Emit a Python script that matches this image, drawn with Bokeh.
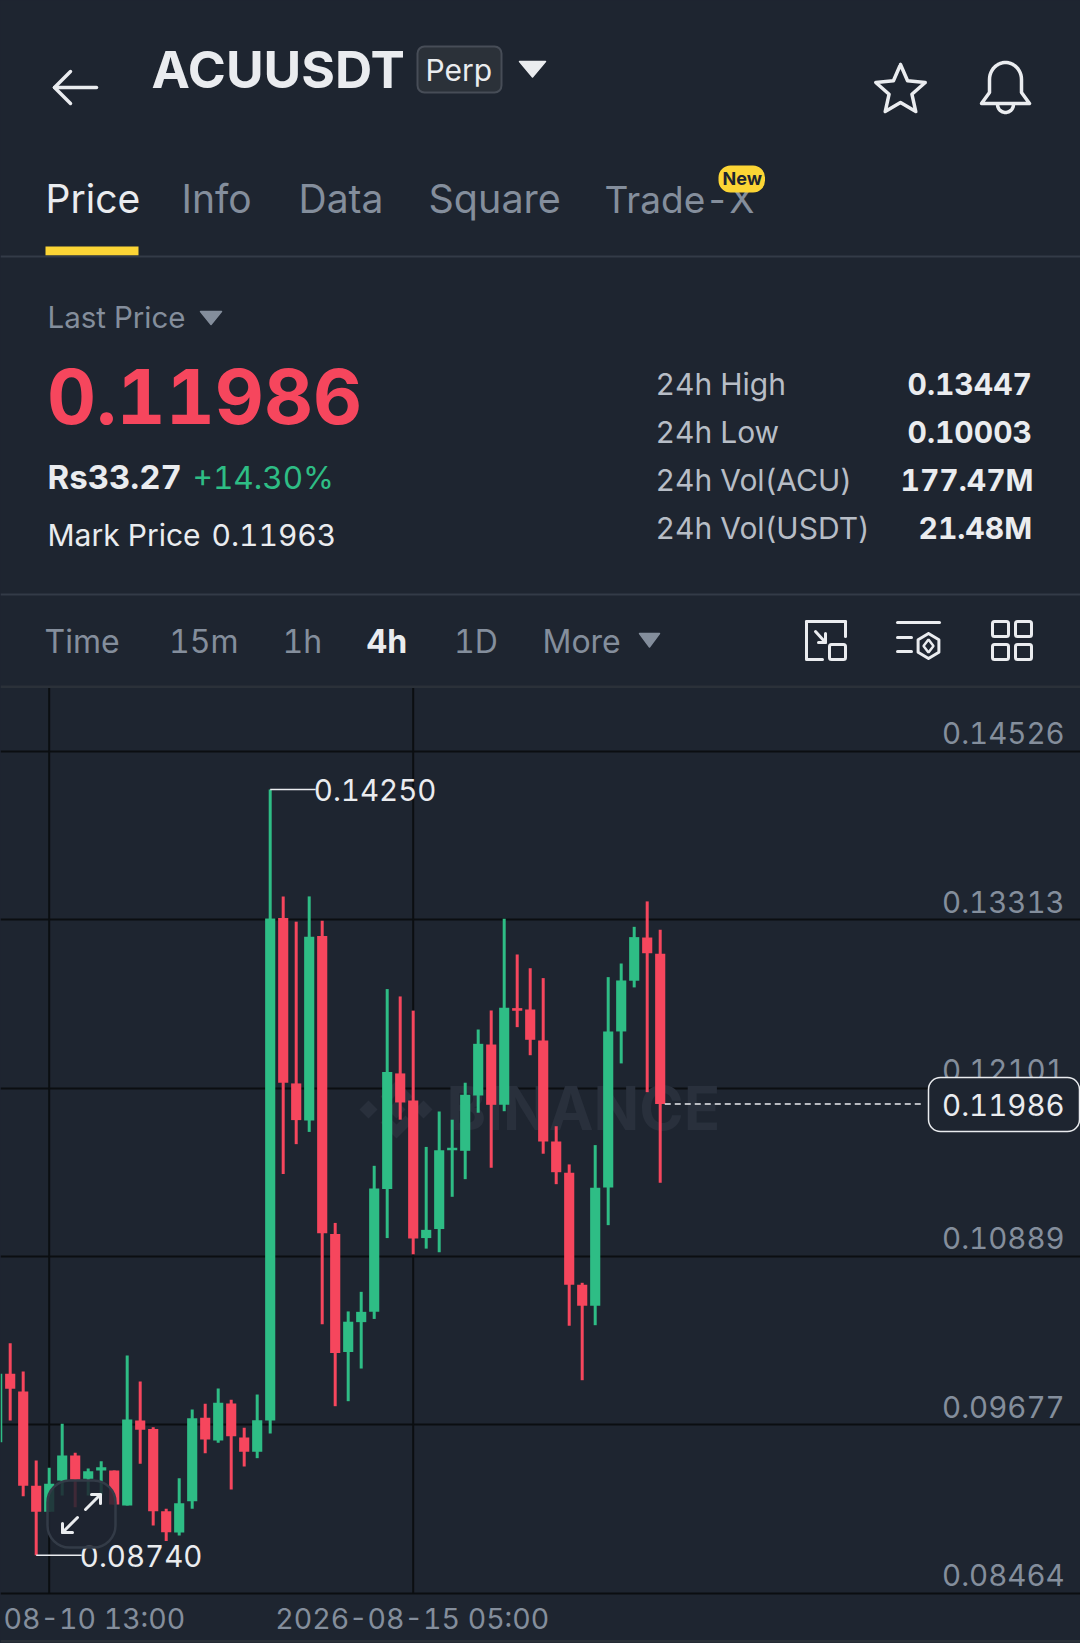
import math
import numpy as np
from bokeh.core.properties import value
from bokeh.embed import file_html
from bokeh.models import ColumnDataSource, FixedTicker, Grid, Range1d
from bokeh.plotting import figure
from bokeh.resources import INLINE

# ---- chart data -------------------------------------------------------------
bars = list(range(-1, 51))
opens = [.09553,.10045,.09918,.09239,.09052,.09277,.09457,.09290,.09349,.09349,.09098,.09709,.09647,
         .09056,.08903,.09128,.09729,.09565,.09832,.09587,.09484,.09709,.13325,.12135,.11868,.13196,
         .11052,.10202,.10417,.10491,.11375,.12207,.12012,.11022,.11087,.11654,.11650,.12048,.12415,
         .11981,.12677,.12667,.12444,.11717,.11492,.10686,.10535,.11386,.12509,.12874,.13185,.13068]
highs = [.10045,.10265,.10062,.09421,.09369,.09685,.09477,.09364,.09416,.09349,.10177,.09990,.09661,
         .09074,.09294,.09788,.09829,.09940,.09858,.09657,.09896,.14250,.13481,.13299,.13481,.13305,
         .11131,.10494,.10635,.11542,.12814,.12761,.12659,.11678,.11933,.11874,.12140,.12523,.12660,
         .13320,.13063,.12964,.12893,.11827,.11552,.10700,.11691,.12900,.12998,.13262,.13445,.13241]
lows = [.09553,.09709,.09164,.08740,.09052,.09169,.09085,.09169,.09169,.09105,.09098,.09398,.08954,
        .08841,.08881,.09074,.09474,.09549,.09213,.09378,.09438,.09616,.11483,.11698,.11786,.10402,
        .09812,.09848,.10083,.10440,.11022,.11874,.10905,.10946,.10920,.11319,.11446,.11924,.11528,
        .11935,.12540,.12338,.11629,.11410,.10391,.09999,.10395,.11115,.12279,.12826,.12072,.11420]
closes = [.10045,.09937,.09239,.09052,.09254,.09457,.09282,.09344,.09373,.09105,.09716,.09642,.09056,
          .08905,.09114,.09726,.09573,.09837,.09596,.09484,.09711,.13322,.12139,.11871,.13190,.11057,
          .10194,.10420,.10491,.11378,.12218,.11998,.11019,.11081,.11654,.11672,.12053,.12420,.11981,
          .12679,.12658,.12449,.11717,.11496,.10686,.10535,.11384,.12509,.12876,.13188,.13072,.11986]

price_ticks = [0.14526, 0.13313, 0.12101, 0.10889, 0.09677, 0.08464]
time_tick_bars = [3, 31]
time_tick_labels = ["2026-08-10 13:00", "2026-08-15 05:00"]
last_price = 0.11986
stats_labels = ["24h High", "24h Low", "24h Vol(ACU)", "24h Vol(USDT)"]
stats_values = ["0.13447", "0.10003", "177.47M", "21.48M"]
tabs = ["Price", "Info", "Data", "Square", "Trade-X"]
intervals = ["Time", "15m", "1h", "4h", "1D", "More"]

# ---- style ------------------------------------------------------------------
FONT = "Inter"
BG, UP, DOWN, GRID = "#1E2530", "#2EBD85", "#F6465D", "#0B0E11"
WHITE, GRAY, YELLOW, RULE = "#EAECEF", "#848E9C", "#FCD535", "#333B47"
K = 0.36  # baseline correction, as a share of the font size

p = figure(width=1080, height=1643, x_range=Range1d(-0.746, 82.33), y_range=Range1d(0.081041, 0.199288),
           output_backend="svg", toolbar_location=None, x_axis_location=None, y_axis_location=None,
           background_fill_color=BG, border_fill_color=BG, outline_line_color=None, min_border=0)
p.grid.visible = False
p.extra_x_ranges["px"] = Range1d(0, 1080)
p.extra_y_ranges["px"] = Range1d(1643, 0)
PX = dict(x_range_name="px", y_range_name="px")
PXX = dict(x_range_name="px")


def txt(x, y, s, size, color, style="normal", align="left"):
    p.text(x=[x], y=[y - K * size], text=[s], text_font=value(FONT), text_font_size=f"{size}px", text_color=color,
           text_font_style=style, text_align=align, text_baseline="alphabetic", **PX)


def poly(xs, ys, color, width=3.0):
    p.line(xs, ys, line_color=color, line_width=width, line_cap="round", line_join="round", **PX)


def tri(x0, x1, y0, y1, color):
    p.patch([x0, x1, (x0 + x1) / 2], [y0, y0, y1], fill_color=color, line_color=color, line_join="round",
            line_width=1.5, **PX)


def rrect(l, r, t, b, radius, fill, line, lw=2.0, alpha=1.0):
    p.quad(left=[l], right=[r], top=[t], bottom=[b], fill_color=fill, fill_alpha=alpha, line_color=line,
           line_width=lw, border_radius=radius, **PX)


# ---- header -----------------------------------------------------------------
poly([70, 54, 70], [71, 87, 103], WHITE, 3.5)
poly([54, 96], [87, 87], WHITE, 3.5)
txt(151, 87.5, "ACUUSDT", 51.5, WHITE, "bold")
rrect(417, 501, 46, 92, 7, "#2B3139", "#474D57")
txt(425, 80, "Perp", 30, WHITE)
tri(519, 545, 61, 76.5, WHITE)

star_a = np.arange(11) * math.pi / 5 - math.pi / 2
star_r = np.where(np.arange(11) % 2 == 0, 26, 12)
poly(900 + star_r * np.cos(star_a), 90 + star_r * np.sin(star_a), WHITE, 3.5)

dome = np.linspace(math.pi, 2 * math.pi, 24)
bell_x = list(1005 + 16 * np.cos(dome)) + [1021, 1029, 981, 989, 989]
bell_y = list(79 + 17 * np.sin(dome)) + [92, 103, 103, 92, 79]
poly(bell_x, bell_y, WHITE, 3.5)
clap = np.linspace(0, math.pi, 12)
poly(1005 + 8 * np.cos(clap), 104 + 8 * np.sin(clap), WHITE, 3.5)

for s, x, size in zip(tabs, [45, 181, 298, 428, 604], [39, 39, 39, 39.5, 37]):
    txt(x, 212.5, s, size, WHITE if s == "Price" else GRAY)
rrect(718, 764.5, 165, 192, 12, YELLOW, YELLOW, 0)
txt(722, 184, "New", 18, "#1E2530", "bold")
p.quad(left=[45], right=[138], top=[246], bottom=[255], fill_color=YELLOW, line_color=None, **PX)
p.quad(left=[0], right=[1080], top=[255], bottom=[257], fill_color=RULE, line_color=None, **PX)

txt(47, 327.5, "Last Price", 29.5, GRAY)
tri(200, 221, 311, 324, GRAY)
txt(46.5, 423, f"{last_price:.5f}", 76, DOWN, "bold")
txt(47, 488.5, "Rs33.27", 33, WHITE, "bold")
txt(192, 488.5, "+14.30%", 31.5, UP)
txt(47, 545, "Mark Price", 30, WHITE)
txt(211, 545, "0.11963", 30, WHITE)
for s, y in zip(stats_labels, [394.5, 442.7, 490.7, 538.7]):
    txt(655, y, s, 30, "#B7BDC6")
for v, x, y in zip(stats_values, [907, 907, 900, 918], [394.5, 442.7, 490.7, 538.7]):
    txt(x, y, v, 30, WHITE, "bold")
p.quad(left=[0], right=[1080], top=[593], bottom=[595], fill_color=RULE, line_color=None, **PX)

for s, x in zip(intervals, [44, 168.5, 282, 366, 453.5, 542]):
    txt(x, 652.3, s, 32, WHITE if s == "4h" else GRAY, "bold" if s == "4h" else "normal")
tri(639, 659, 633, 646.5, GRAY)

poly([806, 806, 822], [621, 659, 659], WHITE)
poly([845, 845], [621, 636], WHITE)
poly([806, 845], [621, 621], WHITE)
rrect(829, 845, 644, 659, 2, BG, WHITE, 3)
poly([815, 825, 825], [631, 642, 633], WHITE)
poly([818, 825], [642, 642], WHITE)
poly([897, 939], [622, 622], WHITE)
poly([897, 911], [637, 637], WHITE)
poly([897, 911], [651, 651], WHITE)
hex_a = np.arange(7) * math.pi / 3 - math.pi / 2
poly(928 + 12 * np.cos(hex_a), 645.5 + 12.5 * np.sin(hex_a), WHITE)
p.patch([928, 933, 928, 923], [639, 645.5, 652, 645.5], fill_color=None, line_color=WHITE, line_width=2.5, **PX)
for l in (992, 1015):
    for t in (621, 644):
        rrect(l, l + 16, t, t + 15, 2, BG, WHITE, 3)

p.quad(left=[0], right=[1080], top=[685], bottom=[687.5], fill_color="#2B3139", line_color=None, **PX)
p.quad(left=[0], right=[1080], top=[1639.5], bottom=[1642], fill_color="#2B3139", line_color=None, **PX)

# ---- chart grid -------------------------------------------------------------
p.add_layout(Grid(dimension=1, ticker=FixedTicker(ticks=price_ticks), grid_line_color=GRID, grid_line_width=2))
p.segment(x0=time_tick_bars, x1=time_tick_bars, y0=[687.5] * 2, y1=[1593] * 2, line_color=GRID, line_width=2,
          y_range_name="px")

# watermark
WM = "#29303C"
for cx, cy, r in [(368, 1109, 9), (423, 1109, 9), (396, 1109, 9)]:
    p.patch([cx, cx + r, cx, cx - r], [cy - r, cy, cy + r, cy], fill_color=WM, line_color=None, **PX)
for sgn in (-1, 1):
    p.patch([380, 396, 412, 405, 396, 387], [1109 + sgn * 13, 1109 + sgn * 29, 1109 + sgn * 13, 1109 + sgn * 6,
                                             1109 + sgn * 15, 1109 + sgn * 6], fill_color=WM, line_color=None, **PX)
txt(446, 1129, "BINANCE", 60, WM, "bold")

# ---- candles ----------------------------------------------------------------
src = ColumnDataSource(dict(bar=bars, o=opens, h=highs, l=lows, c=closes,
                            color=[UP if c >= o else DOWN for o, c in zip(opens, closes)]))
p.segment(x0="bar", x1="bar", y0="l", y1="h", line_color="color", line_width=3, source=src)
p.vbar(x="bar", width=0.78, top="o", bottom="c", fill_color="color", line_color=None, source=src)

# ---- price axis labels (drawn inside the plot) -------------------------------
AX = 29.5
p.text(x=[941.5] * len(price_ticks), y=price_ticks, text=[f"{t:.5f}" for t in price_ticks],
       text_font=value(FONT), text_font_size=f"{AX}px", text_color=GRAY, text_align="left",
       text_baseline="alphabetic", y_offset=-7.5 - K * AX, **PXX)

# time axis labels
p.text(x=[b - 138 / 13 for b in time_tick_bars], y=[1628.5 - K * 28.5] * 2, text=time_tick_labels,
       text_font=value(FONT), text_font_size="28.5px", text_color=GRAY, text_align="left",
       text_baseline="alphabetic", y_range_name="px")

# high / low callouts
hi_i, lo_i = int(np.argmax(highs)), int(np.argmin(lows))
CALL = 3.5
for i, price in [(hi_i, highs[hi_i]), (lo_i, lows[lo_i])]:
    p.segment(x0=[bars[i]], x1=[bars[i] + CALL], y0=[price], y1=[price], line_color=WHITE, line_width=1.5)
    p.text(x=[bars[i] + 3.35], y=[price], text=[f"{price:.5f}"], text_font=value(FONT), text_font_size=f"{AX}px",
           text_color=WHITE, text_baseline="alphabetic", y_offset=11.5 - K * AX)

# last price line and box
p.segment(x0=[bars[-1] + 0.35], x1=[70.25], y0=[last_price], y1=[last_price], line_color=WHITE, line_width=1.5,
          line_dash="6 4")
rrect(928, 1079, 1077, 1131, 12, BG, WHITE, 1.5)
p.text(x=[941.5], y=[last_price], text=[f"{last_price:.5f}"], text_font=value(FONT), text_font_size=f"{AX}px",
       text_color=WHITE, text_align="left", text_baseline="alphabetic", y_offset=11 - K * AX, **PXX)

# expand button
rrect(47, 115, 1480, 1547, 22, BG, RULE, 2.5, 0.85)
poly([62, 77], [1532, 1517], WHITE, 3)
poly([62, 62, 72], [1523, 1532, 1532], WHITE, 3)
poly([85, 100], [1509, 1494], WHITE, 3)
poly([91, 100, 100], [1494, 1494, 1503], WHITE, 3)

html = file_html(p, INLINE)
css = f'html,body{{margin:0;padding:0;background:{BG};overflow:hidden;font-feature-settings:"tnum"}}'
html = html.replace("<head>", f"<head><style>{css}</style>", 1)
open("out.html", "w").write(html)
